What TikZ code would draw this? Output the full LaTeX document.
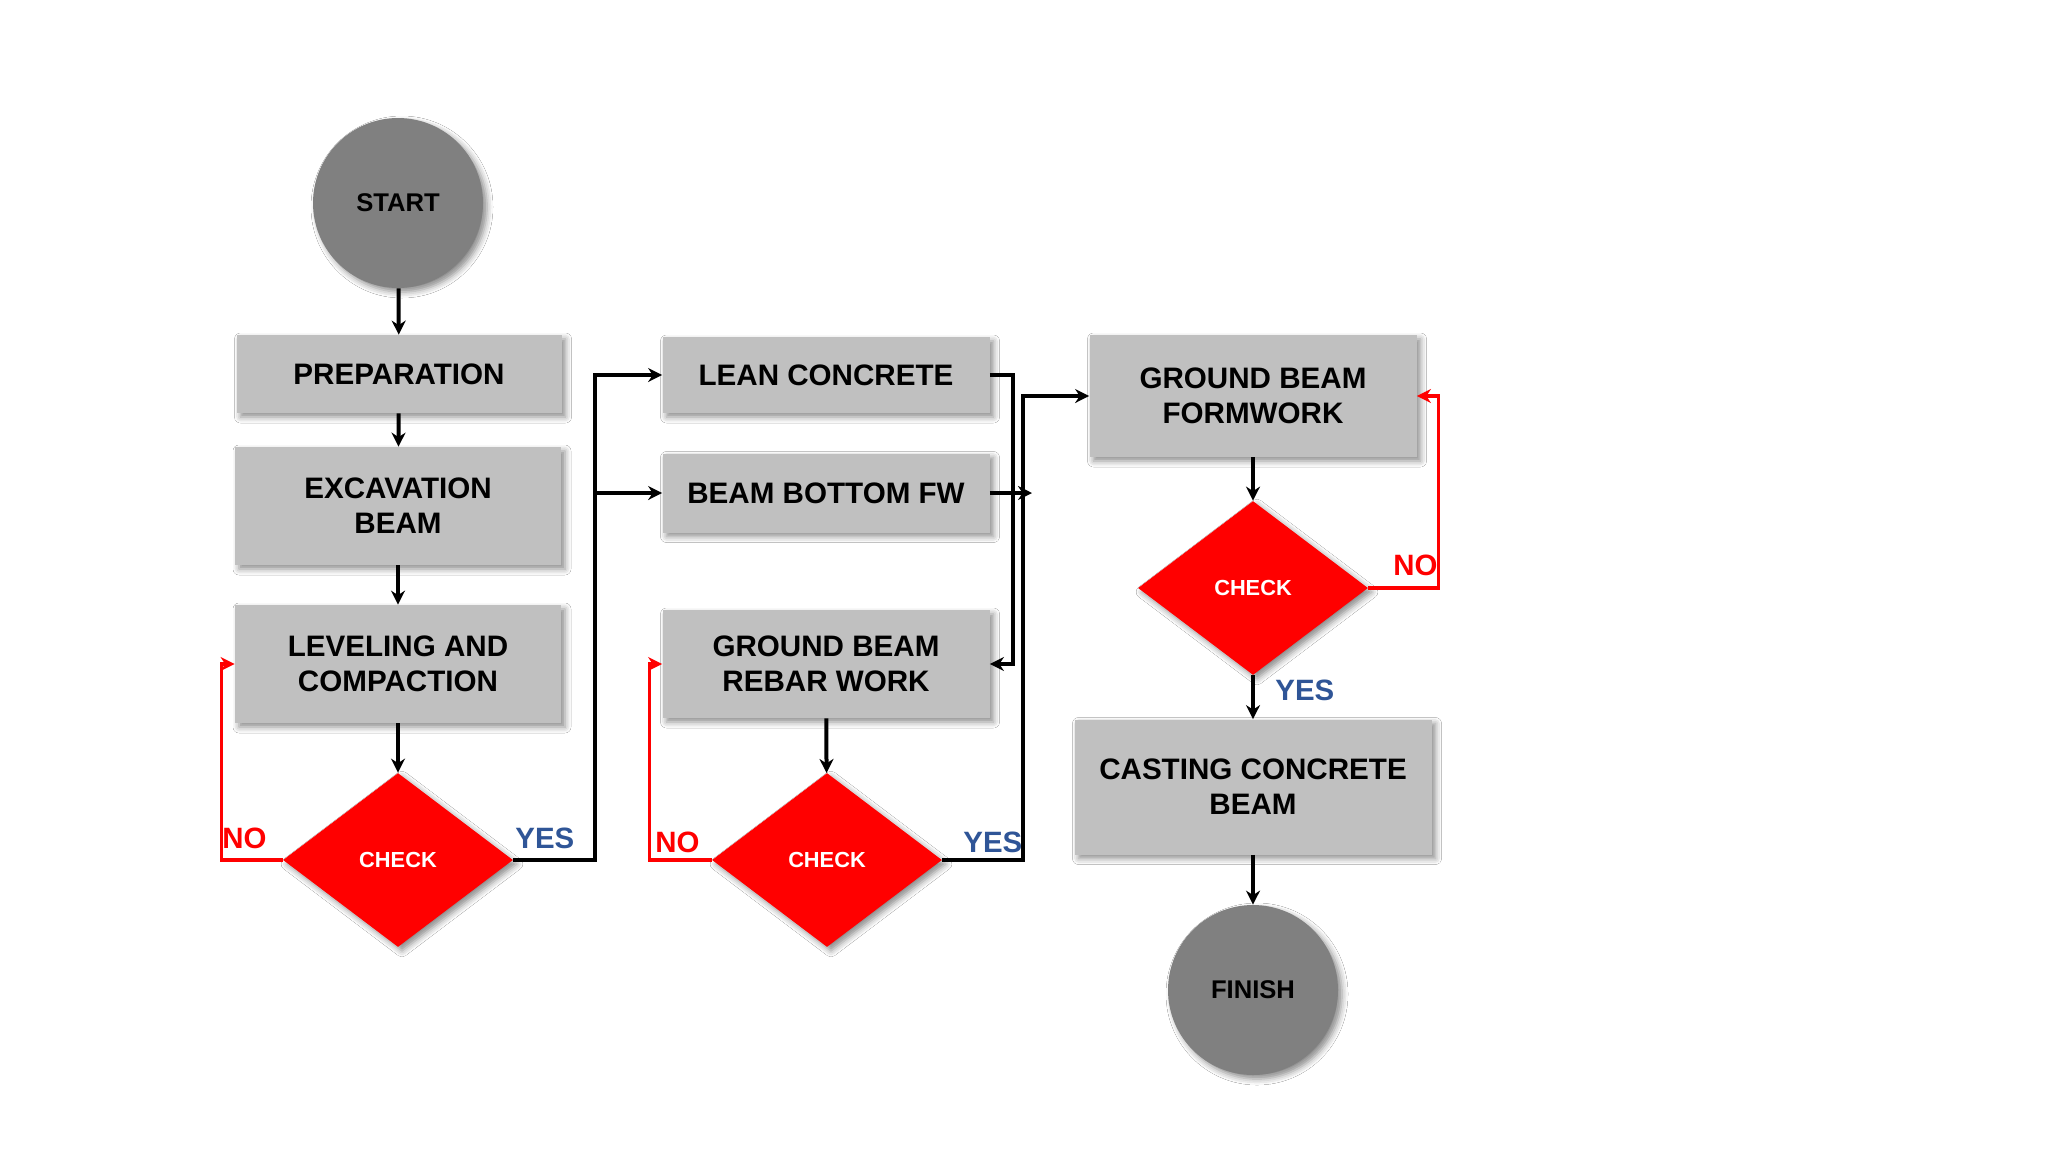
\documentclass[tikz,border=0pt]{standalone}
\usepackage{fontspec}
\setmainfont{Liberation Sans}
\usetikzlibrary{shapes.geometric,arrows.meta,shadows.blur}
\definecolor{boxgray}{HTML}{C0C0C0}
\definecolor{circgray}{HTML}{808080}
\definecolor{chkred}{HTML}{FF0000}
\definecolor{yesblue}{HTML}{2F5597}
\tikzset{
  shd/.style={blur shadow={shadow xshift=2pt,shadow yshift=-2pt,shadow blur radius=3pt,shadow opacity=45}},
  stepbox/.style={rectangle,fill=boxgray,shd,inner sep=0pt,align=center,
    font=\fontsize{14.8}{17.5}\selectfont\bfseries,text=black},
  termcirc/.style={circle,fill=circgray,shd,minimum size=85pt,inner sep=0pt,
    font=\fontsize{12.8}{14}\selectfont\bfseries,text=black},
  chkdia/.style={diamond,fill=chkred,shd,minimum width=115pt,minimum height=87pt,inner sep=0pt,
    font=\fontsize{10.9}{12}\selectfont\bfseries,text=white},
  flow/.style={line width=2pt,-{Stealth[length=7pt,width=7pt]}},
  noflow/.style={line width=1.7pt,draw=chkred,-{Stealth[length=7pt,width=7pt]}},
  nolab/.style={font=\fontsize{14.7}{16}\selectfont\bfseries,text=chkred,inner sep=0pt,anchor=base west},
  yeslab/.style={font=\fontsize{14.7}{16}\selectfont\bfseries,text=yesblue,inner sep=0pt,anchor=base west},
}
\begin{document}
\begin{tikzpicture}[x=0.5pt,y=-0.5pt]
\useasboundingbox[fill=white] (0,0) rectangle (2048,1152);
% column 1
\node[termcirc] (start) at (398,203) {START};
\node[stepbox,minimum width=162.5pt,minimum height=39pt] (prep) at (399,374) {PREPARATION};
\node[stepbox,minimum width=163pt,minimum height=59pt] (exc) at (398,506) {EXCAVATION\\BEAM};
\node[stepbox,minimum width=163pt,minimum height=59pt] (lev) at (398,664) {LEVELING AND\\COMPACTION};
\node[chkdia] (chk1) at (398,860) {CHECK};
% column 2
\node[stepbox,minimum width=163.5pt,minimum height=38pt] (lean) at (826,375) {LEAN CONCRETE};
\node[stepbox,minimum width=163.5pt,minimum height=39.5pt] (bbfw) at (826,493) {BEAM BOTTOM FW};
\node[stepbox,minimum width=163.5pt,minimum height=54pt] (rebar) at (826,664) {GROUND BEAM\\REBAR WORK};
\node[chkdia] (chk2) at (827,860) {CHECK};
% column 3
\node[stepbox,minimum width=163.5pt,minimum height=61pt] (gbf) at (1253,396) {GROUND BEAM\\FORMWORK};
\node[chkdia] (chk3) at (1253,588) {CHECK};
\node[stepbox,minimum width=178.5pt,minimum height=67.5pt] (cast) at (1253,787) {CASTING CONCRETE\\BEAM};
\node[termcirc] (finish) at (1253,990) {FINISH};
% junctions
\coordinate (j1) at (595,860);
\coordinate (j2) at (1023,860);
\coordinate (bbend) at (1032,493);
% column 1 flow
\draw[flow] (start) -- (prep);
\draw[flow] (prep) -- (exc);
\draw[flow] (exc) -- (lev);
\draw[flow] (lev) -- (chk1);
\draw[noflow] (chk1.west) -- ++(-61,0) |- (lev.west);
\draw[flow] (chk1.east) -- (j1) |- (lean.west);
\draw[flow] (j1 |- bbfw.west) -- (bbfw.west);
% column 2 flow
\draw[flow] (lean.east) -- ++(23,0) |- (rebar.east);
\draw[flow] (bbfw.east) -- (bbend);
\draw[flow] (rebar) -- (chk2);
\draw[noflow] (chk2.west) -- ++(-62,0) |- (rebar.west);
\draw[flow] (chk2.east) -- (j2) |- (gbf.west);
% column 3 flow
\draw[flow] (gbf) -- (chk3);
\draw[noflow] (chk3.east) -- ++(70,0) |- (gbf.east);
\draw[flow] (chk3) -- (cast);
\draw[flow] (cast) -- (finish);
% labels
\node[nolab] (no1) at (222,848) {NO};
\node[yeslab] (yes1) at (515,848) {YES};
\node[nolab] (no2) at (655,852) {NO};
\node[yeslab] (yes2) at (963,852) {YES};
\node[nolab] (no3) at (1393,575) {NO};
\node[yeslab] (yes3) at (1275,700) {YES};
\end{tikzpicture}
\end{document}
